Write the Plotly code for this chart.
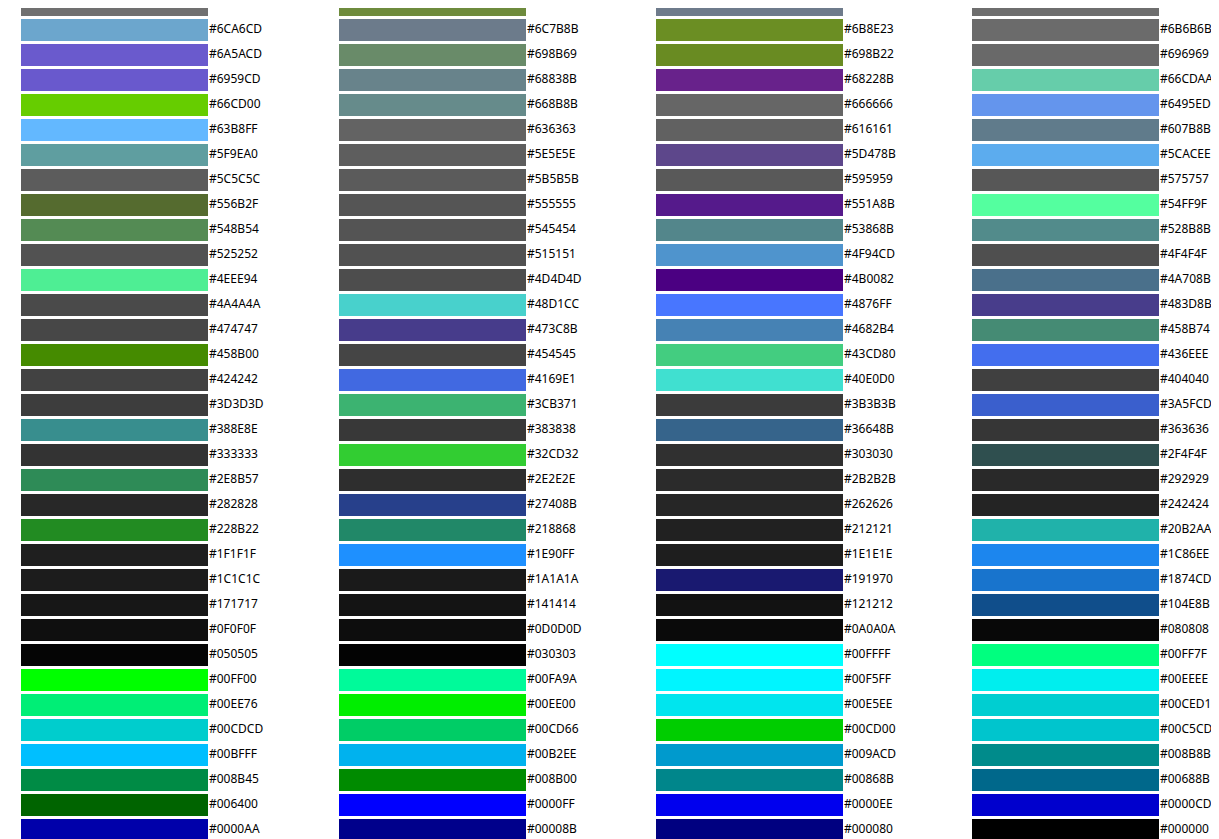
import plotly.graph_objects as go

col1 = ["#707070","#6CA6CD","#6A5ACD","#6959CD","#66CD00","#63B8FF","#5F9EA0","#5C5C5C","#556B2F","#548B54","#525252","#4EEE94","#4A4A4A","#474747","#458B00","#424242","#3D3D3D","#388E8E","#333333","#2E8B57","#282828","#228B22","#1F1F1F","#1C1C1C","#171717","#0F0F0F","#050505","#00FF00","#00EE76","#00CDCD","#00BFFF","#008B45","#006400","#0000AA"]
col2 = ["#6E8B3D","#6C7B8B","#698B69","#68838B","#668B8B","#636363","#5E5E5E","#5B5B5B","#555555","#545454","#515151","#4D4D4D","#48D1CC","#473C8B","#454545","#4169E1","#3CB371","#383838","#32CD32","#2E2E2E","#27408B","#218868","#1E90FF","#1A1A1A","#141414","#0D0D0D","#030303","#00FA9A","#00EE00","#00CD66","#00B2EE","#008B00","#0000FF","#00008B"]
col3 = ["#6E7B8B","#6B8E23","#698B22","#68228B","#666666","#616161","#5D478B","#595959","#551A8B","#53868B","#4F94CD","#4B0082","#4876FF","#4682B4","#43CD80","#40E0D0","#3B3B3B","#36648B","#303030","#2B2B2B","#262626","#212121","#1E1E1E","#191970","#121212","#0A0A0A","#00FFFF","#00F5FF","#00E5EE","#00CD00","#009ACD","#00868B","#0000EE","#000080"]
col4 = ["#6E6E6E","#6B6B6B","#696969","#66CDAA","#6495ED","#607B8B","#5CACEE","#575757","#54FF9F","#528B8B","#4F4F4F","#4A708B","#483D8B","#458B74","#436EEE","#404040","#3A5FCD","#363636","#2F4F4F","#292929","#242424","#20B2AA","#1C86EE","#1874CD","#104E8B","#080808","#00FF7F","#00EEEE","#00CED1","#00C5CD","#008B8B","#00688B","#0000CD","#000000"]
columns = [col1, col2, col3, col4]
col_starts = [13, 331, 648, 964]
swatch_w = 187

fig = go.Figure()
for cols, x0 in zip(columns, col_starts):
    rows = list(range(len(cols)))
    fig.add_trace(go.Bar(orientation="h", y=rows, x=[swatch_w]*len(cols), base=[x0]*len(cols),
                         marker=dict(color=cols, line=dict(width=0)), width=0.88,
                         hoverinfo="skip", showlegend=False))
    fig.add_trace(go.Scatter(x=[x0 + swatch_w + 1]*len(cols), y=rows, mode="text", text=cols,
                             textposition="middle right", textfont=dict(size=12, color="#000", family="Noto Sans"),
                             hoverinfo="skip", showlegend=False, cliponaxis=False))

fig.update_layout(width=1219, height=839, margin=dict(l=0, r=0, t=0, b=0),
                  plot_bgcolor="white", paper_bgcolor="white", barmode="overlay",
                  xaxis=dict(range=[0, 1219], visible=False, fixedrange=True),
                  yaxis=dict(range=[0.12 + 839/25, 0.12], visible=False, fixedrange=True))
fig.write_html("out.html")
